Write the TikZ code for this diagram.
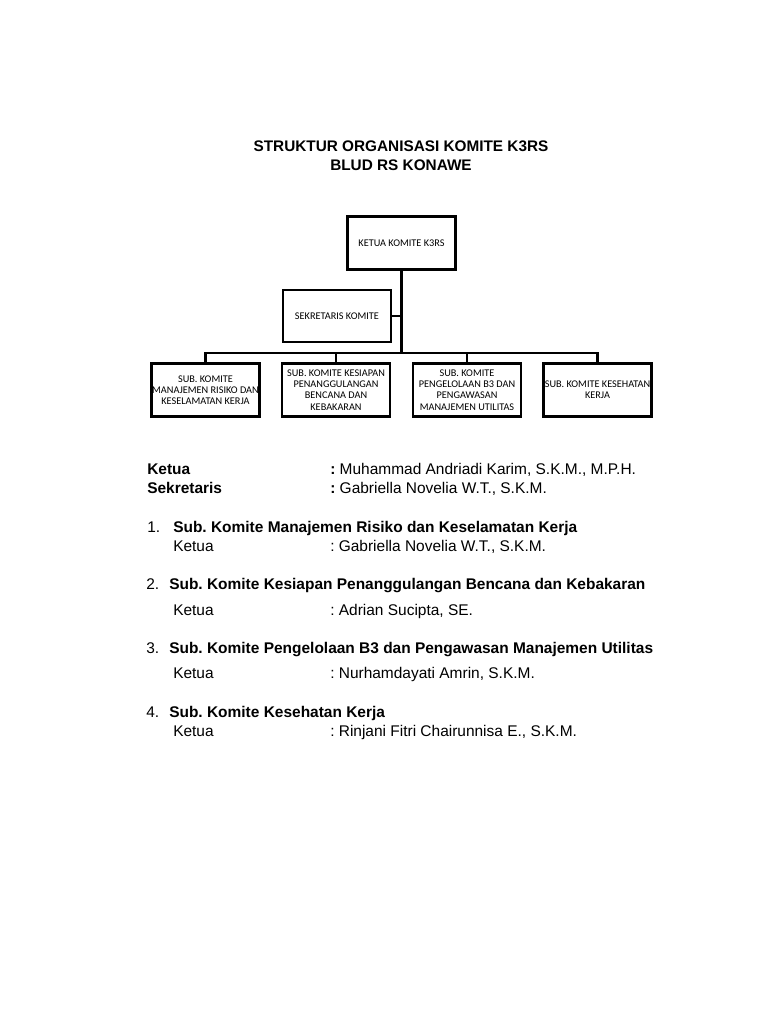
\documentclass[tikz,border=0pt]{standalone}
\usepackage{fontspec}
\setmainfont{Liberation Sans}
\newfontfamily\boxfont{Carlito}
\frenchspacing
\begin{document}
\begin{tikzpicture}[x=0.75pt,y=-0.75pt,
  orgbox/.style={draw, line width=2pt, inner sep=0pt, align=center,
    minimum width=81pt, minimum height=40pt,
    font=\boxfont\fontsize{7.7}{8.4}\selectfont},
  conn/.style={line width=1.6pt},
  body/.style={anchor=base west, inner sep=0pt, font=\fontsize{11.6}{13}\selectfont},
  bodyb/.style={body, font=\fontsize{11.6}{13}\selectfont\bfseries},
  ttl/.style={anchor=base, inner sep=0pt, font=\fontsize{11.5}{13}\selectfont\bfseries}]
\useasboundingbox (0,0) rectangle (768,1024);
\fill[white] (0,0) rectangle (768,1024);
% title
\node[ttl] (t1) at (401,151) {STRUKTUR ORGANISASI KOMITE K3RS};
\node[ttl] (t2) at (401,170) {BLUD RS KONAWE};
% chart
\node[orgbox, minimum height=40pt] (ketua) at (401.5,243) {KETUA KOMITE K3RS};
\node[orgbox, minimum height=39pt] (sekr) at (337,316) {SEKRETARIS KOMITE};
\node[orgbox] (s1) at (205.5,390) {SUB. KOMITE\\MANAJEMEN RISIKO DAN\\KESELAMATAN KERJA};
\node[orgbox] (s2) at (336,390) {SUB. KOMITE KESIAPAN\\PENANGGULANGAN\\BENCANA DAN\\KEBAKARAN};
\node[orgbox] (s3) at (467,390) {SUB. KOMITE\\PENGELOLAAN B3 DAN\\PENGAWASAN\\MANAJEMEN UTILITAS};
\node[orgbox] (s4) at (597.5,390) {SUB. KOMITE KESEHATAN\\KERJA};
\coordinate (bar) at (401.5,353);
\coordinate (bl) at (205.5,353);
\coordinate (br) at (597.5,353);
\draw[conn] (ketua.south) -- (bar);
\draw[conn] (sekr.east) -- (sekr.east -| ketua.south);
\draw[conn, line cap=rect] (bl) -- (br);
\draw[conn] (bl) -- (s1.north);
\draw[conn] (s2.north |- bar) -- (s2.north);
\draw[conn] (s3.north |- bar) -- (s3.north);
\draw[conn] (br) -- (s4.north);
% text block
\node[bodyb] (k) at (147,474) {Ketua};
\node[body] (kv) at (330,474) {\textbf{:} Muhammad Andriadi Karim, S.K.M., M.P.H.};
\node[bodyb] (s) at (147,493) {Sekretaris};
\node[body] (sv) at (330,493) {\textbf{:} Gabriella Novelia W.T., S.K.M.};

\node[body] (n1) at (147,532) {1.};
\node[bodyb] (h1) at (173,532) {Sub. Komite Manajemen Risiko dan Keselamatan Kerja};
\node[body] (k1) at (173,551) {Ketua};
\node[body] (v1) at (330,551) {: Gabriella Novelia W.T., S.K.M.};

\node[body] (n2) at (146,589) {2.};
\node[bodyb] (h2) at (169,589) {Sub. Komite Kesiapan Penanggulangan Bencana dan Kebakaran};
\node[body] (k2) at (173,615) {Ketua};
\node[body] (v2) at (330,615) {: Adrian Sucipta, SE.};

\node[body] (n3) at (146,653) {3.};
\node[bodyb] (h3) at (169,653) {Sub. Komite Pengelolaan B3 dan Pengawasan Manajemen Utilitas};
\node[body] (k3) at (173,678) {Ketua};
\node[body] (v3) at (330,678) {: Nurhamdayati Amrin, S.K.M.};

\node[body] (n4) at (146,717) {4.};
\node[bodyb] (h4) at (169,717) {Sub. Komite Kesehatan Kerja};
\node[body] (k4) at (173,736) {Ketua};
\node[body] (v4) at (330,736) {: Rinjani Fitri Chairunnisa E., S.K.M.};
\end{tikzpicture}
\end{document}
